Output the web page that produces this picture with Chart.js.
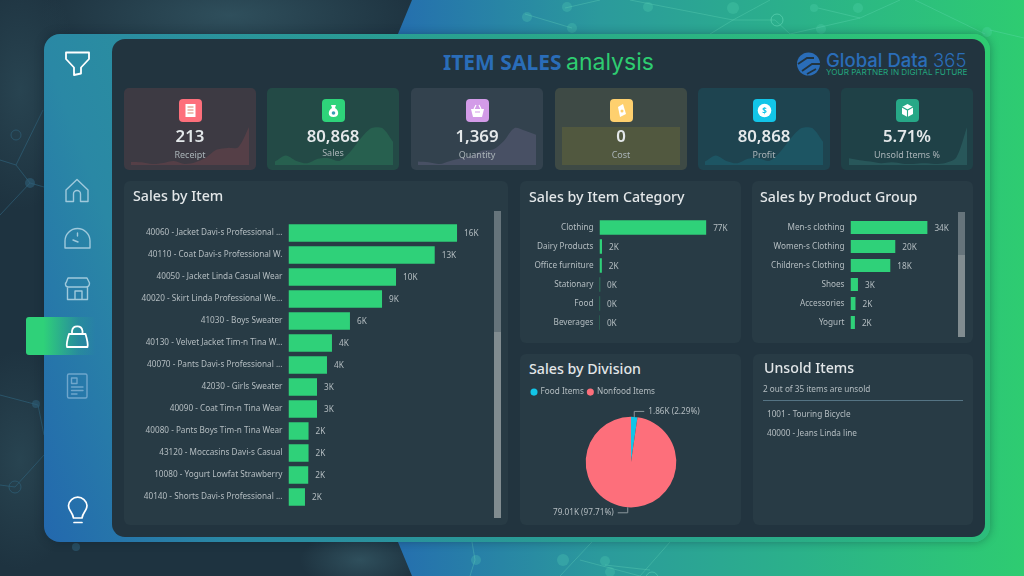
<!DOCTYPE html>
<html>
<head>
<meta charset="utf-8">
<title>Item Sales analysis</title>
<script src="https://cdn.jsdelivr.net/npm/chart.js@4"></script>
<style>
  * { box-sizing: border-box; }
  html, body { margin: 0; padding: 0; }
  body {
    width: 1024px; height: 576px; overflow: hidden; position: relative;
    font-family: "Noto Sans", sans-serif; color: #dfe4e6;
    background: #1e3340;
  }
  .abs { position: absolute; }
  canvas { position: absolute; display: block; }
  #bg { position: absolute; left: 0; top: 0; }
  #frame {
    position: absolute; left: 44px; top: 34px; width: 946px; height: 508px; border-radius: 16px;
    background: linear-gradient(70deg, #2368ae 0%, #2a88a5 16%, #29a58c 58%, #2ecc71 100%);
    box-shadow: 0 0 10px rgba(10, 30, 40, .35);
  }
  #main {
    position: absolute; left: 112px; top: 39px; width: 873px; height: 498px; border-radius: 13px;
    background: #22343f;
  }
  #activeTab {
    position: absolute; left: 26px; top: 317px; width: 70px; height: 38px; border-radius: 3px;
    background: linear-gradient(90deg, #2fd179 0%, #2fd179 25%, rgba(40, 150, 150, .6) 75%, rgba(40, 130, 165, 0) 100%);
  }
  .card { position: absolute; top: 88px; height: 82px; border-radius: 5px; }
  .kpiIcon { position: absolute; top: 99px; width: 23px; height: 23px; border-radius: 4px; }
  .kpiValue { position: absolute; top: 125px; width: 132px; text-align: center; font-size: 16.8px; font-weight: 600; line-height: 22px; color: #e4e8ea; }
  .kpiLabel { position: absolute; top: 148px; width: 132px; text-align: center; font-size: 9px; line-height: 14px; color: #a9b3b7; }
  .panel { position: absolute; background: #283b45; border-radius: 6px; }
  .panelTitle { position: absolute; font-size: 14.2px; font-weight: 500; line-height: 20px; color: #e2e6e8; white-space: nowrap; }
  .scrollTrack { position: absolute; background: #818c90; }
  .scrollThumb { position: absolute; background: #66747b; }
  .small { position: absolute; font-size: 8.2px; line-height: 12px; color: #b4bdc1; white-space: nowrap; }
</style>
</head>
<body>

<!-- backdrop: dark field, chevron gradient band, network lines -->
<svg id="bg" width="1024" height="576" viewBox="0 0 1024 576">
  <defs>
    <linearGradient id="band" x1="0" y1="0" x2="1" y2="0">
      <stop offset="0.15" stop-color="#2570ae"/>
      <stop offset="0.42" stop-color="#2b9a9c"/>
      <stop offset="0.69" stop-color="#2bb18a"/>
      <stop offset="1" stop-color="#2ecc71"/>
    </linearGradient>
    <radialGradient id="glow1"><stop offset="0" stop-color="#2f4f5c"/><stop offset="1" stop-color="#2f4f5c" stop-opacity="0"/></radialGradient>
  </defs>
  <rect width="1024" height="576" fill="#1e3340"/>
  <ellipse cx="230" cy="15" rx="190" ry="60" fill="url(#glow1)"/>
  <ellipse cx="20" cy="90" rx="60" ry="120" fill="url(#glow1)" opacity=".6"/>
  <ellipse cx="20" cy="460" rx="60" ry="110" fill="url(#glow1)" opacity=".6"/>
  <ellipse cx="360" cy="560" rx="60" ry="30" fill="url(#glow1)"/>
  <polygon points="412,0 1024,0 1024,576 412,576 293,288" fill="url(#band)"/>
  <g stroke="#6fe0c0" stroke-opacity=".28" fill="none" stroke-width="1">
    <path d="M525,14 L572,28 M565,8 L600,0 M630,0 L733,20 L770,0 M733,20 L775,20 L790,34 M733,20 L710,34 M818,8 L860,18 L900,0 M860,18 L790,34 M915,0 L985,34 M990,30 L1024,38"/>
    <path d="M470,576 L475,560 L472,542 M560,576 L605,528 M580,560 L640,576 M605,565 L650,570 M640,576 L670,542"/>
  </g>
  <g fill="#5fe0bb" fill-opacity=".22">
    <circle cx="527" cy="17" r="5"/><circle cx="572" cy="28" r="5"/><circle cx="567" cy="7" r="5"/>
    <circle cx="648" cy="7" r="5"/><circle cx="733" cy="8" r="6"/><circle cx="814" cy="8" r="4"/>
    <circle cx="858" cy="8" r="5"/><circle cx="821" cy="29" r="5"/><circle cx="987" cy="32" r="5"/>
    <circle cx="476" cy="560" r="5"/><circle cx="563" cy="560" r="6"/><circle cx="605" cy="561" r="5"/><circle cx="610" cy="572" r="5"/>
  </g>
  <circle cx="777" cy="20" r="6" fill="none" stroke="#6fe0c0" stroke-opacity=".5"/>
  <circle cx="652" cy="578" r="6" fill="none" stroke="#6fe0c0" stroke-opacity=".4"/>
  <g stroke="#2e5f78" stroke-opacity=".7" fill="none">
    <path d="M0,160 L16,165 L43,110 M16,165 L30,183 L44,187 M30,183 L0,215 M0,395 L38,405 L44,435 M15,487 L44,455 M0,485 L15,487"/>
    <circle cx="16" cy="135" r="5"/><circle cx="15" cy="487" r="6"/>
  </g>
  <g fill="#2e5f78" fill-opacity=".6"><circle cx="30" cy="183" r="5"/><circle cx="36" cy="404" r="4"/><circle cx="76" cy="547" r="4"/></g>
</svg>

<div id="frame"></div>
<div id="activeTab"></div>
<div id="main"></div>

<!-- nav icons -->
<svg class="abs" style="left:0;top:0" width="112" height="576" fill="none" stroke-linejoin="round" stroke-linecap="round">
  <path d="M66,52.5 H89 V59 L81,67.5 V73.5 L74,75 V67.5 L66,59 Z" stroke="#fff" stroke-width="1.8"/>
  <g stroke="#9fc9dc" stroke-width="1.4">
    <path d="M66,190 L77,179.5 L88,190 V201.5 H80.5 V194 A3.5,3.5 0 0 0 73.5,194 V201.5 H66 Z"/>
    <path d="M65,248 V241 A12.5,12.5 0 0 1 90,241 V248 Z M77.5,233 V236 M73,240 L78,242"/>
    <path d="M66,283 L68,278 H87 L89.5,283 Q89.5,287 86,287 H68.5 Q65,287 65.5,283 Z M67.5,287 V299.5 H87.5 V287 M75,291 H82 V299.5 H75 Z"/>
  </g>
  <path d="M67,347 Q66,344 69,334 H85.5 Q88.5,344 87.5,347 Z M72,334 V331 A5.3,5.3 0 0 1 82.5,331 V334" stroke="#fff" stroke-width="1.8"/>
  <g stroke="#6fa6cc" stroke-width="1.4">
    <rect x="67.5" y="374" width="19.5" height="24" rx="1.5"/>
    <rect x="71.5" y="378" width="5.5" height="5.5"/>
    <path d="M71.5,387 H83 M71.5,390.5 H83 M71.5,394 H77"/>
  </g>
  <path d="M73.5,518 C72.5,512 68.5,510.5 68.5,505.5 A9.3,9.3 0 0 1 87,505.5 C87,510.5 83,512 82,518 Z" stroke="#fff" stroke-width="1.7"/>
  <path d="M74,522.5 H82" stroke="#fff" stroke-width="1.7"/>
</svg>

<!-- header -->
<div class="abs" style="left:443px;top:47px;font-size:21px;line-height:30px;font-weight:700;color:#2a6db8;white-space:nowrap">ITEM SALES</div>
<div class="abs" style="left:566px;top:47px;font-size:23px;line-height:30px;font-family:Inter,sans-serif;color:#2ecc71;white-space:nowrap">analysis</div>

<svg class="abs" style="left:796px;top:51px" width="26" height="26">
  <circle cx="12.5" cy="13" r="11.5" fill="#2a6db8"/>
  <path d="M2,13 L11,7 H18 M6,20 L16,13 H24 M11,23 L20,18" stroke="#22343f" stroke-width="1.8" fill="none"/>
</svg>
<div class="abs" style="left:826px;top:48px;font-family:Inter,sans-serif;font-size:18.5px;line-height:24px;font-weight:500;color:#2a6db8;white-space:nowrap">Global Data <span style="font-weight:300">365</span></div>
<div class="abs" style="left:826px;top:66px;font-family:Inter,sans-serif;font-size:8.2px;line-height:12px;color:#23a47e;white-space:nowrap">YOUR PARTNER IN DIGITAL FUTURE</div>

<div id="kpis"></div>

<!-- panels -->
<div class="panel" style="left:124px;top:181px;width:384px;height:344px"></div>
<div class="panel" style="left:520px;top:181px;width:221px;height:162px"></div>
<div class="panel" style="left:752px;top:181px;width:221px;height:162px"></div>
<div class="panel" style="left:520px;top:354px;width:221px;height:171px"></div>
<div class="panel" style="left:753px;top:354px;width:220px;height:171px"></div>

<div class="panelTitle" style="left:133px;top:186px">Sales by Item</div>
<div class="panelTitle" style="left:529px;top:187px">Sales by Item Category</div>
<div class="panelTitle" style="left:760px;top:187px">Sales by Product Group</div>
<div class="panelTitle" style="left:529px;top:359px">Sales by Division</div>
<div class="panelTitle" style="left:764px;top:358px">Unsold Items</div>

<div class="scrollTrack" style="left:494px;top:211px;width:7px;height:307px"></div>
<div class="scrollThumb" style="left:494px;top:211px;width:7px;height:121px"></div>
<div class="scrollTrack" style="left:958px;top:212px;width:7px;height:125px"></div>
<div class="scrollThumb" style="left:958px;top:212px;width:7px;height:43px"></div>

<canvas id="itemChart" width="370" height="286" style="left:124px;top:222px"></canvas>
<canvas id="categoryChart" width="210" height="114" style="left:520px;top:218px"></canvas>
<canvas id="groupChart" width="205" height="114" style="left:752px;top:218px"></canvas>
<canvas id="divisionChart" width="221" height="141" style="left:520px;top:383px"></canvas>

<div class="small" style="left:763px;top:383px" id="unsoldNote"></div>
<div class="abs" style="left:763px;top:400px;width:200px;height:1px;background:#557484"></div>
<div id="unsoldList"></div>

<script>
// KPI row
const kpiLabels = ["Receipt", "Sales", "Quantity", "Cost", "Profit", "Unsold Items %"];
const kpiValues = ["213", "80,868", "1,369", "0", "80,868", "5.71%"];
const kpiLeft = [124, 267, 411, 555, 698, 841];
const kpiCardColors = ["#3d3a43", "#234a46", "#33424e", "#3e4a45", "#1e4450", "#1f4147"];
const kpiIconColors = ["#fd6f7b", "#2ed47a", "#d39be8", "#fed06e", "#12c5e8", "#27a887"];
const kpiSparkColors = ["#553f47", "#27604f", "#485064", "#51583f", "#1d5563", "#28575a"];

// sparkline trends, one per KPI
const receiptTrend = [9, 8, 3, 6, 12, 3, 8, 22, 45, 50, 52, 111];
const salesTrend = [10, 28, 12, 5, 18, 20, 12, 38, 78, 108, 108, 68];
const quantityTrend = [10, 8, 3, 12, 20, 28, 42, 45, 70, 108, 100, 88];
const costTrend = [111, 111, 111, 111, 111, 111, 111, 111, 111, 111, 111, 111];
const profitTrend = [10, 28, 12, 5, 18, 20, 12, 38, 78, 108, 108, 68];
const unsoldTrend = [20, 14, 10, 5, 8, 4, 3, 5, 3, 6, 22, 110];
const trendMonths = ["Jan", "Feb", "Mar", "Apr", "May", "Jun", "Jul", "Aug", "Sep", "Oct", "Nov", "Dec"];

// Sales by Item, thousands
const itemLabels = [
  "40060 - Jacket Davi-s Professional ...",
  "40110 - Coat Davi-s Professional W.",
  "40050 - Jacket Linda Casual Wear",
  "40020 - Skirt Linda Professional We...",
  "41030 - Boys Sweater",
  "40130 - Velvet Jacket Tim-n Tina W...",
  "40070 - Pants Davi-s Professional ...",
  "42030 - Girls Sweater",
  "40090 - Coat Tim-n Tina Wear",
  "40080 - Pants Boys Tim-n Tina Wear",
  "43120 - Moccasins Davi-s Casual",
  "10080 - Yogurt Lowfat Strawberry",
  "40140 - Shorts Davi-s Professional ...",
];
const itemValues = [15.55, 13.49, 9.92, 8.63, 5.67, 4.01, 3.55, 2.63, 2.63, 1.85, 1.85, 1.82, 1.52];

// Sales by Item Category, thousands
const categoryLabels = ["Clothing", "Dairy Products", "Office furniture", "Stationary", "Food", "Beverages"];
const categoryValues = [77, 1.8, 1.7, 0.45, 0.4, 0.3];

// Sales by Product Group, thousands
const groupLabels = ["Men-s clothing", "Women-s Clothing", "Children-s Clothing", "Shoes", "Accessories", "Yogurt"];
const groupValues = [34, 19.8, 17.6, 3.3, 2.2, 1.95];

// Sales by Division, thousands
const divisionLabels = ["Food Items", "Nonfood Items"];
const divisionValues = [1.8555, 79.0125];

const unsoldNote = "2 out of 35 items are unsold";
const unsoldItems = ["1001 - Touring Bicycle", "40000 - Jeans Linda line"];

const FONT = "'Noto Sans', sans-serif";
const LABEL_SIZE = 8.2;
const LABEL_COLOR = "#b4bdc1";
const BAR_COLOR = "#2fd179";

Chart.defaults.animation = false;
Chart.defaults.font.family = FONT;
Chart.defaults.responsive = false;

// small glyphs inside the KPI icon squares
const kpiGlyphs = [
  '<rect x="6.5" y="5" width="10" height="13" fill="#fff"/><path d="M8.5,8 H14.5 M8.5,11 H14.5 M8.5,14 H14.5" stroke="#d9826b" stroke-width="1.2"/>',
  '<path d="M9,6 H14 L13,9 C17,11 18,18 11.5,18 C5,18 6,11 10,9 Z" fill="#fff"/><circle cx="11.5" cy="14" r="1.8" fill="#3a9fb5"/>',
  '<path d="M5,10 H18 L16,18 H7 Z" fill="#fff"/><path d="M8,10 L10,6 M15,10 L13,6" stroke="#fff" stroke-width="1.2"/><path d="M9,13 H14" stroke="#d39be8" stroke-width="1.2"/>',
  '<path d="M8,8 L13,5 L16,15 L10,18 Z" fill="#fff"/><circle cx="12" cy="12" r="1.5" fill="#fed06e"/>',
  '<circle cx="11.5" cy="11.5" r="6.8" fill="#fff"/><text x="11.5" y="14.5" font-size="8" font-weight="700" text-anchor="middle" fill="#12c5e8">$</text>',
  '<path d="M6,8 L11.5,5 L17,8 V15 L11.5,18 L6,15 Z" fill="#fff"/><path d="M6,8 L11.5,11 L17,8 M11.5,11 V18" stroke="#27a887" stroke-width="1.1" fill="none"/>',
];

const kpiTrends = [receiptTrend, salesTrend, quantityTrend, costTrend, profitTrend, unsoldTrend];
const sparkInset = [7, 8, 7, 7, 7, 8];

const kpiHost = document.getElementById("kpis");
kpiLabels.forEach((label, i) => {
  const left = kpiLeft[i];
  kpiHost.insertAdjacentHTML("beforeend", `
    <div class="card" style="left:${left}px;width:132px;background:${kpiCardColors[i]}"></div>
    <canvas id="spark${i}" width="118" height="38" style="left:${left + sparkInset[i]}px;top:127px"></canvas>
    <svg class="kpiIcon" viewBox="0 0 23 23" style="left:${left + 55}px;background:${kpiIconColors[i]}">${kpiGlyphs[i]}</svg>
    <div class="kpiValue" style="left:${left}px">${kpiValues[i]}</div>
    <div class="kpiLabel" style="left:${left}px;${i === 1 ? "margin-top:-2px" : ""}">${label}</div>`);
});

function makeSpark(id, trend, color, curve) {
  return new Chart(document.getElementById(id), {
    type: "line",
    data: {
      labels: trendMonths,
      datasets: [{ data: trend, fill: "origin", backgroundColor: color, borderWidth: 0, pointRadius: 0, tension: curve }],
    },
    options: {
      plugins: { legend: { display: false }, tooltip: { enabled: false } },
      scales: { x: { display: false, offset: false }, y: { display: false, min: 0, max: 111 } },
    },
  });
}

kpiTrends.forEach((trend, i) => {
  makeSpark("spark" + i, trend, kpiSparkColors[i], i === 3 ? 0 : 0.3);
});

// value labels at the end of each bar
const barLabels = {
  id: "barLabels",
  afterDatasetsDraw(chart) {
    const ctx = chart.ctx;
    const data = chart.data.datasets[0].data;
    ctx.save();
    ctx.font = LABEL_SIZE + "px " + FONT;
    ctx.fillStyle = LABEL_COLOR;
    ctx.textBaseline = "middle";
    chart.getDatasetMeta(0).data.forEach((bar, i) => {
      ctx.fillText(Math.round(data[i]) + "K", bar.x + 7, bar.y + 1);
    });
    ctx.restore();
  },
};

function makeBars(id, labels, values, axisWidth, xMax, barPercent) {
  return new Chart(document.getElementById(id), {
    type: "bar",
    data: {
      labels: labels,
      datasets: [{ data: values, backgroundColor: BAR_COLOR, barPercentage: barPercent, categoryPercentage: 1 }],
    },
    options: {
      indexAxis: "y",
      plugins: { legend: { display: false }, tooltip: { enabled: false } },
      scales: {
        x: { display: false, min: 0, max: xMax },
        y: {
          // rows fill the canvas height, no room kept for the first and last label
          afterFit(scale) {
            scale.width = axisWidth;
            scale.paddingTop = 0;
            scale.paddingBottom = 0;
          },
          grid: { display: false, drawTicks: false },
          border: { display: false },
          ticks: { autoSkip: false, padding: 6, color: LABEL_COLOR, font: { size: LABEL_SIZE } },
        },
      },
    },
    plugins: [barLabels],
  });
}

makeBars("itemChart", itemLabels, itemValues, 164.5, 18.96, 0.8);
makeBars("categoryChart", categoryLabels, categoryValues, 79.5, 94.2, 0.76);
makeBars("groupChart", groupLabels, groupValues, 98.5, 47.1, 0.68);

// pie labels with elbow leader lines, text comes from the values
const pieLabels = {
  id: "pieLabels",
  afterDatasetsDraw(chart) {
    const ctx = chart.ctx;
    const data = chart.data.datasets[0].data;
    const total = data.reduce((a, b) => a + b, 0);
    ctx.save();
    ctx.font = LABEL_SIZE + "px " + FONT;
    ctx.textBaseline = "middle";
    chart.getDatasetMeta(0).data.forEach((arc, i) => {
      const mid = (arc.startAngle + arc.endAngle) / 2;
      const tipX = arc.x + Math.cos(mid) * arc.outerRadius;
      const tipY = arc.y + Math.sin(mid) * arc.outerRadius;
      const up = Math.sin(mid) < 0;
      const right = Math.cos(mid) > 0;
      const elbowY = tipY + (up ? -5.5 : 5.5);
      const endX = tipX + (right ? 10 : -10);
      ctx.strokeStyle = "#8b979c";
      ctx.lineWidth = 1;
      ctx.beginPath();
      ctx.moveTo(tipX, tipY);
      ctx.lineTo(tipX, elbowY);
      ctx.lineTo(endX, elbowY);
      ctx.stroke();
      const text = data[i].toFixed(2) + "K (" + (data[i] / total * 100).toFixed(2) + "%)";
      ctx.fillStyle = LABEL_COLOR;
      ctx.textAlign = right ? "left" : "right";
      ctx.fillText(text, endX + (right ? 4 : -4), elbowY);
    });
    ctx.restore();
  },
};

new Chart(document.getElementById("divisionChart"), {
  type: "pie",
  data: {
    labels: divisionLabels,
    datasets: [{ data: divisionValues, backgroundColor: ["#12c5e8", "#fd6f7b"], borderWidth: 0 }],
  },
  options: {
    radius: 45.3,
    layout: { padding: { left: 7.5, right: 6.5, top: 1, bottom: 6 } },
    plugins: {
      tooltip: { enabled: false },
      legend: {
        position: "top",
        align: "start",
        labels: { usePointStyle: true, pointStyle: "circle", boxWidth: 5, boxHeight: 5, padding: 4, color: LABEL_COLOR, font: { size: LABEL_SIZE } },
      },
    },
  },
  plugins: [pieLabels],
});

document.getElementById("unsoldNote").textContent = unsoldNote;
const unsoldHost = document.getElementById("unsoldList");
unsoldItems.forEach((name, i) => {
  const row = document.createElement("div");
  row.className = "small";
  row.style.left = "767px";
  row.style.top = 408 + i * 19 + "px";
  row.textContent = name;
  unsoldHost.appendChild(row);
});
</script>
</body>
</html>
